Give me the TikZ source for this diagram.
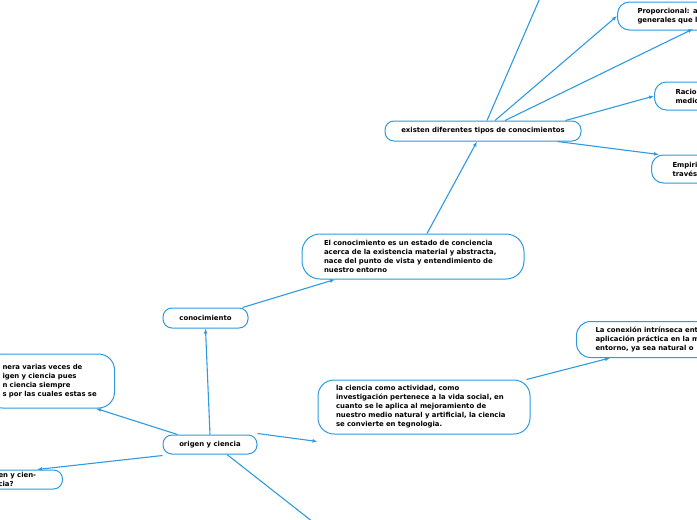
\documentclass[tikz,border=0pt]{standalone}
\usepackage{fontspec}
\setmainfont{DejaVu Sans}
\usetikzlibrary{arrows.meta}
\begin{document}
\begin{tikzpicture}[x=1pt,y=-1pt,
  box/.style={draw=lb,line width=1pt,fill=white,rounded corners=#1,inner sep=0pt,font=\bfseries\fontsize{6.9}{9}\selectfont,align=left},
  box/.default=9pt,
  con/.style={draw=lb,line width=1.1pt,-{Latex[length=5pt,width=4pt]}},
  lin/.style={draw=lb,line width=1.1pt}]
\definecolor{lb}{HTML}{2E9BE0}
\useasboundingbox (0,0) rectangle (697,520);
% nodes
\node[box,minimum width=94,minimum height=19] (orig) at (210,444.5) {origen y ciencia};
\node[box,minimum width=85,minimum height=20] (cono) at (205.5,318) {conocimiento};
\node[box=18pt,minimum width=222,minimum height=45,text width=178] (est) at (413,256.5) {El conocimiento es un estado de conciencia\\acerca de la existencia material y abstracta,\\nace del punto de vista y entendimiento de\\nuestro entorno};
\node[box,minimum width=196,minimum height=20] (exi) at (483,131) {existen diferentes tipos de conocimientos};
\node[box=12pt,inner xsep=20pt,text width=120,minimum height=28,anchor=west] (prop) at (617,16) {Proporcional: a\\generales que l};
\node[box=12pt,inner xsep=21pt,text width=60,minimum height=28,anchor=west] (rac) at (654,96) {Racio\\medio};
\node[box=12pt,inner xsep=21pt,text width=60,minimum height=28,anchor=west] (emp) at (651,169) {Empiri\\través};
\node[box=16pt,minimum width=212,minimum height=54,text width=176] (cie) at (424,407) {la ciencia como actividad, como\\investigación pertenece a la vida social, en\\cuanto se le aplica al mejoramiento de\\nuestro medio natural y artificial, la ciencia\\se convierte en tegnologia.};
\node[box=14pt,inner xsep=19pt,text width=160,minimum height=36,anchor=west] (conx) at (576,339.5) {La conexión intrínseca ent\\aplicación práctica en la m\\entorno, ya sea natural o};
\node[box=16pt,inner xsep=16pt,text width=96,minimum height=54,anchor=east] (left) at (115,381) {nera varias veces de\\igen y ciencia pues\\n ciencia siempre\\s por las cuales estas se};
\node[box,inner xsep=16pt,text width=48,minimum height=19,anchor=east] (bot) at (63,479.5) {en y ciencia?};
\coordinate (top) at (540,-2);
\coordinate (down) at (313,522);
% connectors
\draw[con] (orig.north) -- (cono.south);
\draw[con] ([xshift=-6pt]cono.north east) -- ([xshift=-78pt]est.south);
\draw[con] ([xshift=14pt]est.north) -- ([xshift=-6pt]exi.south);
\draw[lin] ([xshift=4pt]exi.north) -- (top);
\draw[con] ([xshift=12pt]exi.north) -- (prop.west);
\draw[con] ([xshift=22pt]exi.north) -- (693,29);
\draw[con] ([xshift=-16pt]exi.north east) -- (rac.west);
\draw[con] ([xshift=-24pt]exi.south east) -- ([xshift=8pt]emp.north west);
\draw[con] ([yshift=1pt]orig.north east) -- ([yshift=-7pt]cie.south west);
\draw[con] ([xshift=-4pt]cie.north east) -- ([xshift=34pt]conx.south west);
\draw[con] ([xshift=15pt]orig.north west) -- ([xshift=-19pt]left.south east);
\draw[con] ([yshift=-1pt]orig.south west) -- ([xshift=-26pt]bot.north east);
\draw[lin] ([xshift=17pt]orig.south) -- (down);
\end{tikzpicture}
\end{document}
